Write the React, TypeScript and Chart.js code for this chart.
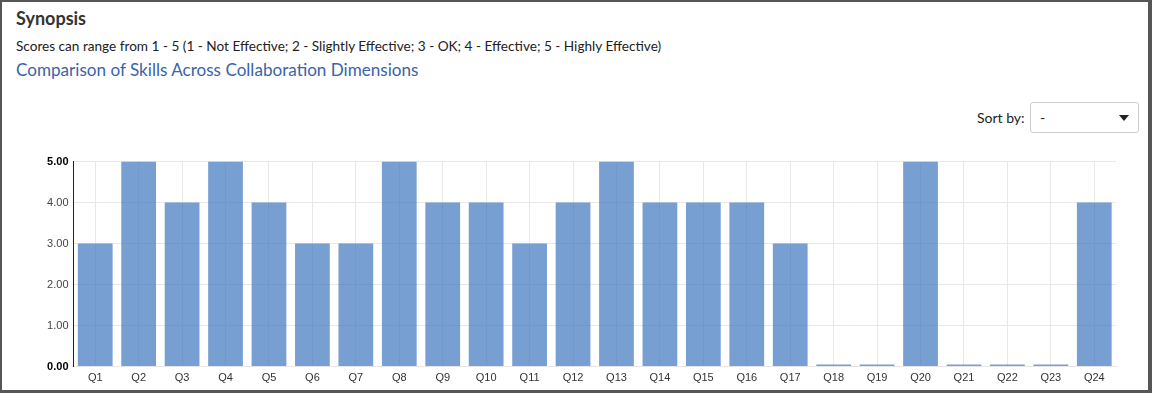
import React, { useEffect, useRef } from "react";
import { Chart, registerables } from "chart.js";

Chart.register(...registerables);

// Question labels along the x axis
const questions = [
  "Q1", "Q2", "Q3", "Q4", "Q5", "Q6", "Q7", "Q8", "Q9", "Q10", "Q11", "Q12",
  "Q13", "Q14", "Q15", "Q16", "Q17", "Q18", "Q19", "Q20", "Q21", "Q22", "Q23", "Q24",
];

// Score for each question (0 = not rated)
const scores = [3, 5, 4, 5, 4, 3, 3, 5, 4, 4, 3, 4, 5, 4, 4, 4, 3, 0, 0, 5, 0, 0, 0, 4];

// Value axis ticks
const scoreTicks = [0, 1, 2, 3, 4, 5];

const textFont = '"Lato", "Open Sans", "Noto Sans", sans-serif';

function ScoreChart() {
  const ref = useRef<HTMLCanvasElement | null>(null);

  useEffect(() => {
    if (!ref.current) return;
    const chart = new Chart(ref.current, {
      type: "bar",
      data: {
        labels: questions,
        datasets: [
          {
            data: scores,
            backgroundColor: "rgba(62,118,190,0.7)",
            borderWidth: 0,
            barPercentage: 0.8,
            categoryPercentage: 1,
            minBarLength: 2,
          },
        ],
      },
      options: {
        responsive: false,
        animation: false,
        layout: { padding: { top: 13.5, right: 4, bottom: 0, left: 0 } },
        plugins: {
          legend: { display: false },
          tooltip: { enabled: false },
          title: { display: false },
        },
        scales: {
          x: {
            grid: {
              offset: false,
              color: "#e8e8e8",
              lineWidth: 1,
              drawTicks: false,
            },
            border: { color: "#e6e6e6" },
            ticks: {
              color: "#333",
              padding: 5,
              maxRotation: 0,
              autoSkip: false,
              font: { family: '"Liberation Sans", Arial, sans-serif', size: 11 },
            },
            afterFit: (scale: any) => {
              scale.height = 23.5;
            },
          },
          y: {
            min: 0,
            max: 5,
            afterBuildTicks: (scale: any) => {
              scale.ticks = scoreTicks.map((v) => ({ value: v }));
            },
            grid: { color: "#e8e8e8", drawTicks: false },
            border: { color: "#222", width: 1 },
            ticks: {
              padding: 5,
              color: (ctx: any) =>
                ctx.tick && (ctx.tick.value === 0 || ctx.tick.value === 5) ? "#000" : "#444",
              font: (ctx: any) => ({
                family: '"Liberation Sans", Arial, sans-serif',
                size: 11,
                weight:
                  ctx.tick && (ctx.tick.value === 0 || ctx.tick.value === 5) ? "bold" : "normal",
              }),
              callback: (v: any) => Number(v).toFixed(2),
            },
            afterFit: (scale: any) => {
              scale.width = 53.5;
            },
          },
        },
      },
    });
    return () => chart.destroy();
  }, []);

  return <canvas ref={ref} width={1100} height={242} style={{ display: "block" }} />;
}

export default function App() {
  return (
    <div
      style={{
        position: "absolute",
        top: 0,
        left: 0,
        width: 1152,
        height: 393,
        boxSizing: "border-box",
        borderStyle: "solid",
        borderColor: "#555",
        borderWidth: "2px 4px 3px 2px",
        background: "#fff",
        fontFamily: textFont,
        overflow: "hidden",
      }}
    >
      <div
        style={{
          position: "absolute",
          left: 14,
          top: 5,
          fontSize: 18,
          fontWeight: 700,
          color: "#333",
        }}
      >
        Synopsis
      </div>
      <div
        style={{
          position: "absolute",
          left: 14,
          top: 36,
          fontSize: 13.6,
          color: "#222",
          whiteSpace: "nowrap",
        }}
      >
        Scores can range from 1 - 5 (1 - Not Effective; 2 - Slightly Effective; 3 - OK; 4 - Effective; 5 - Highly Effective)
      </div>
      <div
        style={{
          position: "absolute",
          left: 14,
          top: 57,
          fontSize: 17.1,
          color: "#3b63a8",
          whiteSpace: "nowrap",
        }}
      >
        Comparison of Skills Across Collaboration Dimensions
      </div>
      <div
        style={{
          position: "absolute",
          left: 975,
          top: 107,
          fontSize: 14,
          color: "#222",
        }}
      >
        Sort by:
      </div>
      <div
        style={{
          position: "absolute",
          left: 1028,
          top: 100,
          width: 109,
          height: 31,
          boxSizing: "border-box",
          border: "1px solid #ccc",
          borderRadius: 3,
          fontSize: 14,
          color: "#222",
        }}
      >
        <span style={{ position: "absolute", left: 9, top: 6 }}>-</span>
        <span
          style={{
            position: "absolute",
            right: 9,
            top: 12,
            width: 0,
            height: 0,
            borderLeft: "5px solid transparent",
            borderRight: "5px solid transparent",
            borderTop: "6px solid #222",
          }}
        />
      </div>
      <div style={{ position: "absolute", left: 18, top: 146 }}>
        <ScoreChart />
      </div>
    </div>
  );
}
